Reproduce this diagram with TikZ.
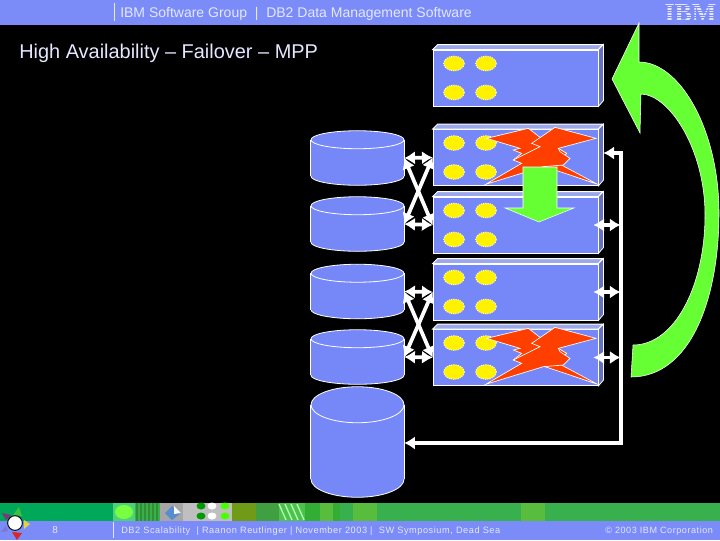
\documentclass[tikz,border=0pt]{standalone}
\usepackage{fontspec}
\setmainfont{Liberation Sans}
\newfontfamily\footfont[LetterSpace=6]{Liberation Sans}
\newfontfamily\logofont{Liberation Serif}
\usepackage{tikz}
\usetikzlibrary{arrows.meta, positioning, calc, shapes.geometric}

\definecolor{bandblue}{HTML}{7B8CF8}
\definecolor{boxblue}{HTML}{7688F8}
\definecolor{boxtop}{HTML}{9CA8EC}
\definecolor{boxside}{HTML}{6672C4}
\definecolor{arrowgreen}{HTML}{66FF33}
\definecolor{boltred}{HTML}{FF3F00}
\definecolor{bandgreen}{HTML}{38B04E}
\definecolor{leftgreen}{HTML}{00A85A}
\definecolor{lightpatch}{HTML}{58BC3C}
\definecolor{palefont}{HTML}{E4E7FF}

\tikzset{
    srvbox/.style={draw=white, fill=boxblue, line width=0.6pt, minimum width=123.75pt, minimum height=42pt, inner sep=0pt},
    dbbox/.style={inner sep=0pt, minimum width=69.75pt},
    dbskin/.style={draw=white, fill=boxblue, line width=0.6pt},
    lamp/.style={ellipse, fill=yellow, draw=white, densely dotted, line width=0.7pt, minimum width=15.5pt, minimum height=11pt, inner sep=0pt},
    link/.style={white, line width=2.8pt, {Latex[length=8pt,width=10pt]}-{Latex[length=8pt,width=10pt]}},
    bus/.style={white, line width=3pt, {Latex[length=8pt,width=10pt]}-{Latex[length=8pt,width=10pt]}},
    greenarrow/.style={fill=arrowgreen, draw=white, line width=0.4pt},
    bolt/.style={fill=boltred, draw=white, line width=0.5pt},
    blurb/.style={inner sep=0pt, anchor=west, text=palefont}
}

\begin{document}
\begin{tikzpicture}[x=0.75pt, y=-0.75pt]
    \useasboundingbox (0,0) rectangle (720,540);
    \fill[black] (0,0) rectangle (720,540);

    % top band
    \fill[bandblue] (0,0) rectangle (720,25);
    \draw[palefont, line width=0.6pt] (114,3) -- (114,21);
    \node[blurb] (head) at (120,13.5) {\fontsize{10.5}{12}\selectfont IBM Software Group \ | \ DB2 Data Management Software};
    \node[inner sep=0pt, text=palefont] (logo) at (690.5,13) {\logofont\bfseries\fontsize{19.5}{20}\selectfont IBM};
    \foreach \y in {5,7.5,...,20}
        \draw[bandblue, line width=0.5pt] (660,\y) -- (720,\y);
    \node[blurb] (title) at (19,53) {\fontsize{14.95}{18}\selectfont High Availability -- Failover -- MPP};

    % bottom band
    \fill[bandgreen] (0,503) rectangle (720,521);
    \fill[bandblue] (0,521) rectangle (720,540);
    \fill[leftgreen] (0,503) rectangle (113,521);
    \fill[teal!50!green!70] (113,503) rectangle (135,521);
    \fill[green!70!yellow!75] (124,512) ellipse [x radius=9, y radius=7];
    \foreach \x in {136,140,...,156}
        \fill[green!45!black!80] (\x,503) rectangle ++(2,18);
    \fill[gray!70] (160,503) rectangle (183,521);
    \fill[cyan!50!blue!70] (172,506) -- (181,513) -- (172,520) -- (165,513) -- cycle;
    \fill[white] (174,506) -- (181,513) -- (174,514) -- cycle;
    \fill[gray!50] (183,503) rectangle (232,521);
    \foreach \x/\y/\c in {201/506/green!60!black, 201/516/green!60!black, 212/506/white, 212/516/white, 225/506/green!70!yellow, 225/516/green!70!yellow}
        \fill[\c] (\x,\y) ellipse [x radius=4.5, y radius=3.5];
    \fill[olive!60!green] (232,503) rectangle (256,521);
    \fill[green!50!black!75] (256,503) rectangle (279,521);
    \fill[green!65!black!70] (279,503) rectangle (305,521);
    \foreach \x in {279,285,...,299}
        \draw[green!30!white, line width=1pt] (\x,504) -- ++(7,16);
    \fill[green!60!black!80] (305,503) rectangle (340,521);
    \fill[lightpatch] (320,503) rectangle (333,521);
    \fill[lightpatch] (353,503) rectangle (377,521);
    \fill[lightpatch] (521,503) rectangle (545,521);

    \draw[palefont, line width=0.6pt] (113,522) -- (113,538);
    \node[blurb] (pageno) at (52,530) {\fontsize{7.5}{9}\selectfont 8};
    \node[blurb] (foot) at (121,531) {\footfont\fontsize{6.9}{8}\selectfont DB2 Scalability \ | Raanon Reutlinger | November 2003 | \ SW Symposium, Dead Sea};
    \node[blurb] (copy) at (605,531) {\footfont\fontsize{6.8}{8}\selectfont © 2003 IBM Corporation};

    % corner emblem
    \fill[green!50!gray] (19,507) -- (22,516) -- (13,515) -- cycle;
    \fill[yellow!70!gray] (24,520) -- (30,524) -- (24,529) -- cycle;
    \fill[red!70!gray] (12,532) -- (22,533) -- (17,540) -- cycle;
    \fill[violet!60!gray] (2,513) -- (11,515) -- (6,520) -- cycle;
    \fill[blue!50!gray!70] (1,532) -- (6,526) -- (8,531) -- cycle;
    \node[circle, fill=white, draw=black, line width=0.7pt, minimum size=11pt, inner sep=0pt] (globe) at (15,523) {};

    % servers
    \foreach \n/\y in {1/78, 2/157.5, 3/225, 4/292, 5/357.5} {
        \node[srvbox] (srv\n) at (515.5,\y) {};
        \draw[white, fill=boxtop, line width=0.6pt] (srv\n.north west) -- ++(5,-5) -- ++(165,0) -- (srv\n.north east) -- cycle;
        \draw[white, fill=boxside, line width=0.6pt] (srv\n.north east) -- ++(5,-5) -- ++(0,56) -- (srv\n.south east) -- cycle;
        \node[lamp] (lamp\n a) at ($(srv\n.center)+(-61.5,-14.5)$) {};
        \node[lamp] (lamp\n b) at ($(srv\n.center)+(-29.5,-14.5)$) {};
        \node[lamp] (lamp\n c) at ($(srv\n.center)+(-61.5,14.5)$) {};
        \node[lamp] (lamp\n d) at ($(srv\n.center)+(-29.5,14.5)$) {};
    }

    % disks
    \foreach \n/\y/\h/\r in {1/158/54/9, 2/224/54/9, 3/291.5/54/9, 4/357/54/9, 5/442/110/18} {
        \node[dbbox, minimum height=\h*0.75pt] (disk\n) at (357.5,\y) {};
        \draw[dbskin] ($(disk\n.south)+(0,-\r)$) ellipse [x radius=46.5, y radius=\r];
        \fill[boxblue] ($(disk\n.north west)+(0,\r)$) rectangle ($(disk\n.south east)+(0,-\r)$);
        \draw[white, line width=0.6pt] ($(disk\n.north west)+(0,\r)$) -- ($(disk\n.south west)+(0,-\r)$);
        \draw[white, line width=0.6pt] ($(disk\n.north east)+(0,\r)$) -- ($(disk\n.south east)+(0,-\r)$);
        \draw[dbskin] ($(disk\n.north)+(0,\r)$) ellipse [x radius=46.5, y radius=\r];
    }

    % disk to server links
    \foreach \a/\b/\c/\d in {1/2/2/3, 3/4/4/5} {
        \draw[link] (disk\a.east) -- (srv\b.west);
        \draw[link] (disk\c.east) -- (srv\d.west);
        \draw[link] (disk\a.east) -- (srv\d.west);
        \draw[link] (disk\c.east) -- (srv\b.west);
    }

    % shared bus
    \coordinate (busTop) at (620.5,153);
    \coordinate (busBot) at (620.5,443);
    \draw[bus] ([xshift=3.75pt]srv2.east |- busTop) -- (busTop) -- (busBot) -- (disk5.east |- busBot);
    \foreach \n in {3,4,5}
        \draw[link] ([xshift=-3.75pt]srv\n.east) -- (srv\n.east -| busTop);

    % lightning
    \foreach \dy in {0,200} {
        \begin{scope}[shift={(300,120+\dy)}, x=0.25pt, y=-0.25pt]
            \draw[bolt] (560,55) -- (685,25) -- (720,52) -- (800,100) -- (775,130) -- (893,193) -- (735,140) -- (640,120) -- (665,100) -- (640,90) -- (660,85) -- cycle;
            \draw[bolt] (888,55) -- (765,22) -- (695,70) -- (720,80) -- (640,120) -- (665,130) -- (557,193) -- (730,140) -- (790,135) -- (810,115) -- (780,95) -- (775,85) -- cycle;
        \end{scope}
    }

    % failover arrows
    \draw[greenarrow] (523,167) -- (557,167) -- (557,208) -- (574,208) -- (539,222) -- (505,208) -- (523,208) -- cycle;
    \draw[greenarrow] (639,23) -- (612,79) -- (640,133) -- (641,94)
        .. controls (670,95) and (705,150) .. (705,215)
        .. controls (705,285) and (675,345) .. (633,345) -- (631,377)
        .. controls (690,377) and (719,300) .. (719,213)
        .. controls (719,130) and (680,62) .. (639,62) -- cycle;
\end{tikzpicture}
\end{document}
